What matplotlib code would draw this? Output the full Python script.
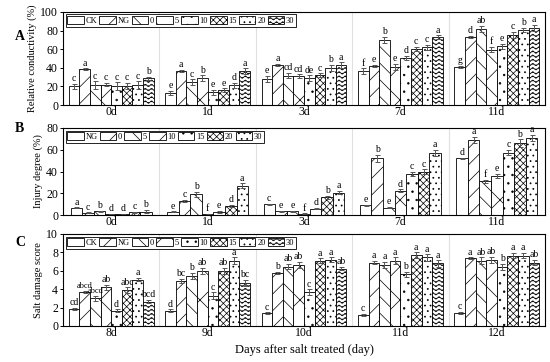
import warnings
warnings.filterwarnings('ignore')
import numpy as np
import matplotlib
matplotlib.use('Agg')
import matplotlib.pyplot as plt
import matplotlib.hatch as mhatch
from matplotlib.path import Path

# ---------------- data ----------------
groups_A = ['0d', '1d', '3d', '7d', '11d']
series_A = ['CK', 'NG', '0', '5', '10', '15', '20', '30']
vals_A = [
    [20, 38.5, 21.5, 22, 20.5, 20.5, 21.5, 28.5],
    [13, 36.5, 24.5, 29, 13.5, 16, 21, 36.5],
    [28, 43, 31.5, 31, 29, 32, 40, 43],
    [36.5, 42, 70, 41, 50.5, 60.5, 62, 73],
    [41, 73, 82, 59.5, 63, 75.5, 81, 83],
]
err_A = [
    [3, 1, 4, 2, 4, 3, 4, 2],
    [2, 1, 3, 3, 3, 2, 3, 3],
    [3, 1, 3, 2, 3, 2, 3, 3],
    [3, 1, 3, 3, 2, 2, 3, 2],
    [1, 1, 3, 3, 3, 3, 2, 3],
]
let_A = [
    ['c', 'a', 'c', 'c', 'c', 'c', 'c', 'b'],
    ['e', 'a', 'c', 'b', 'e', 'e', 'd', 'a'],
    ['e', 'a', 'cd', 'cd', 'de', 'c', 'b', 'a'],
    ['f', 'e', 'b', 'e', 'd', 'c', 'c', 'a'],
    ['g', 'd', 'ab', 'f', 'e', 'c', 'b', 'a'],
]

groups_B = ['0d', '1d', '3d', '7d', '11d']
series_B = ['NG', '0', '5', '10', '15', '20', '30']
vals_B = [
    [6.6, 2.0, 3.3, 0.9, 0.6, 2.4, 3.0],
    [3.0, 13, 19, 1.0, 3.0, 8.5, 27],
    [9.7, 3.6, 3.3, 1.2, 5.8, 16.4, 20.4],
    [9.0, 52, 6.7, 22.5, 37.7, 40, 57],
    [52, 69, 31, 35.6, 57.4, 66, 71],
]
err_B = [
    [0.5, 0.5, 0.8, 0.3, 0.3, 0.5, 1.5],
    [0.3, 0.8, 2.5, 0.3, 0.8, 1.0, 2.0],
    [0.5, 0.5, 0.5, 0.3, 0.5, 1.5, 1.5],
    [0.5, 3.0, 0.5, 1.0, 2.0, 2.0, 3.0],
    [0.5, 3.0, 1.5, 2.0, 2.5, 3.5, 2.5],
]
let_B = [
    ['a', 'c', 'b', 'd', 'd', 'c', 'b'],
    ['e', 'c', 'b', 'f', 'e', 'd', 'a'],
    ['c', 'e', 'e', 'f', 'd', 'b', 'a'],
    ['e', 'b', 'e', 'd', 'c', 'c', 'a'],
    ['d', 'a', 'f', 'e', 'c', 'b', 'a'],
]

groups_C = ['8d', '9d', '10d', '11d', '12d']
series_C = ['CK', 'NG', '0', '5', '10', '15', '20', '30']
vals_C = [
    [1.85, 3.7, 3.0, 4.2, 1.65, 3.9, 5.05, 2.65],
    [1.65, 4.9, 5.45, 6.0, 3.3, 6.0, 7.1, 4.7],
    [1.4, 5.8, 6.45, 6.65, 3.7, 7.1, 7.2, 6.25],
    [1.2, 6.9, 6.65, 7.1, 5.6, 7.7, 7.45, 6.8],
    [1.45, 7.35, 7.1, 7.2, 6.4, 7.65, 7.65, 6.9],
]
err_C = [
    [0.1, 0.1, 0.25, 0.3, 0.15, 0.3, 0.2, 0.2],
    [0.15, 0.25, 0.3, 0.3, 0.35, 0.35, 0.35, 0.3],
    [0.1, 0.1, 0.3, 0.3, 0.3, 0.25, 0.25, 0.2],
    [0.1, 0.2, 0.3, 0.35, 0.3, 0.3, 0.35, 0.35],
    [0.1, 0.1, 0.35, 0.3, 0.35, 0.3, 0.3, 0.3],
]
let_C = [
    ['cd', 'abcd', 'abcd', 'ab', 'd', 'abc', 'a', 'bcd'],
    ['d', 'bc', 'b', 'ab', 'c', 'ab', 'a', 'bc'],
    ['c', 'b', 'ab', 'ab', 'c', 'a', 'a', 'ab'],
    ['c', 'a', 'a', 'a', 'b', 'a', 'a', 'a'],
    ['c', 'a', 'ab', 'ab', 'b', 'a', 'a', 'ab'],
]

# ---------------- wavy hatch ----------------
class WaveHatch(mhatch.HatchPatternBase):
    def __init__(self, hatch, density):
        self.num_rows = int(hatch.count('~') * density)
        self.pts = 129
        self.num_vertices = self.num_rows * self.pts

    def set_vertices_and_codes(self, vertices, codes):
        xs = np.linspace(0, 1, self.pts)
        k = 0
        for r in range(self.num_rows):
            y0 = (r + 0.5) / self.num_rows
            vertices[k:k + self.pts, 0] = xs
            vertices[k:k + self.pts, 1] = y0 + 0.012 * np.sin(2 * np.pi * 16 * xs)
            codes[k] = Path.MOVETO
            codes[k + 1:k + self.pts] = Path.LINETO
            k += self.pts

mhatch._hatch_types.append(WaveHatch)

hatches = ['', '//', '\\\\', 'x', '..', 'xxxxx', '...', '~~~~']

plt.rcParams['font.family'] = 'serif'
plt.rcParams['font.serif'] = ['Liberation Serif', 'DejaVu Serif']
plt.rcParams['hatch.linewidth'] = 0.5
plt.rcParams['hatch.color'] = 'black'

fig = plt.figure(figsize=(5.5, 3.62), dpi=100)
W, H = 550, 362

def axbox(l, r, t, b):
    return [l / W, 1 - b / H, (r - l) / W, (b - t) / H]

def panel(rect, groups, series, vals, errs, lets, ymax, yticks, ylabel, letter, letter_y):
    ax = fig.add_axes(rect)
    vals = np.array(vals)
    errs = np.array(errs)
    n = len(series)
    w = 0.11 if n == 8 else 0.12
    x = np.arange(len(groups))
    for i, s in enumerate(series):
        xs = x + (i - (n - 1) / 2) * w
        ax.bar(xs, vals[:, i], w, yerr=errs[:, i], color='white', edgecolor='black',
               linewidth=0.6, hatch=hatches[i], label=s, zorder=2,
               error_kw=dict(ecolor='#555555', elinewidth=0.7, capsize=1.8, capthick=0.7))
        for j in range(len(groups)):
            lab = lets[j][i]
            ax.annotate(lab, (xs[j], vals[j, i] + errs[j, i]), xytext=(0, 0.5),
                        textcoords='offset points', ha='center', va='bottom',
                        fontsize=7 if len(lab) < 4 else 6.0)
    for g in range(1, len(groups)):
        ax.axvline(g - 0.5, color='#e0e0e0', lw=0.8, zorder=0)
    ax.set_xlim(-0.5, len(groups) - 0.5)
    ax.set_ylim(0, ymax)
    ax.set_yticks(yticks)
    ax.set_xticks(x)
    ax.set_xticklabels(groups)
    ax.tick_params(axis='x', length=0, labelsize=8.5, pad=1)
    ax.tick_params(axis='y', length=2.5, width=0.7, labelsize=8.5, pad=1)
    for sp in ax.spines.values():
        sp.set_linewidth(0.8)
    ax.set_ylabel(ylabel, fontsize=7.5, labelpad=2)
    leg = ax.legend(ncol=n, loc='upper left', bbox_to_anchor=(0.0, 1.0), fontsize=6,
                    handlelength=2.0, handleheight=1.15, handletextpad=0.2,
                    columnspacing=0.25, borderpad=0.2, borderaxespad=0.3,
                    fancybox=False, edgecolor='black', framealpha=1)
    leg.get_frame().set_linewidth(0.6)
    fig.text(15 / W, 1 - letter_y / H, letter, fontsize=10, fontweight='bold',
             ha='left', va='center')
    return ax

panel(axbox(63, 545, 12, 105), groups_A, series_A, vals_A, err_A, let_A, 100,
      [0, 20, 40, 60, 80, 100], 'Relative conductivity (%)', 'A', 37)
panel(axbox(63, 545, 128, 215), groups_B, series_B, vals_B, err_B, let_B, 80,
      [0, 20, 40, 60, 80], 'Injury degree (%)', 'B', 128)
panel(axbox(63, 545, 234, 326), groups_C, series_C, vals_C, err_C, let_C, 10,
      [0, 2, 4, 6, 8, 10], 'Salt damage score', 'C', 243)

fig.text(304 / W, 1 - 350 / H, 'Days after salt treated (day)', fontsize=9,
         ha='center', va='center')

fig.savefig('out.png', dpi=100)
